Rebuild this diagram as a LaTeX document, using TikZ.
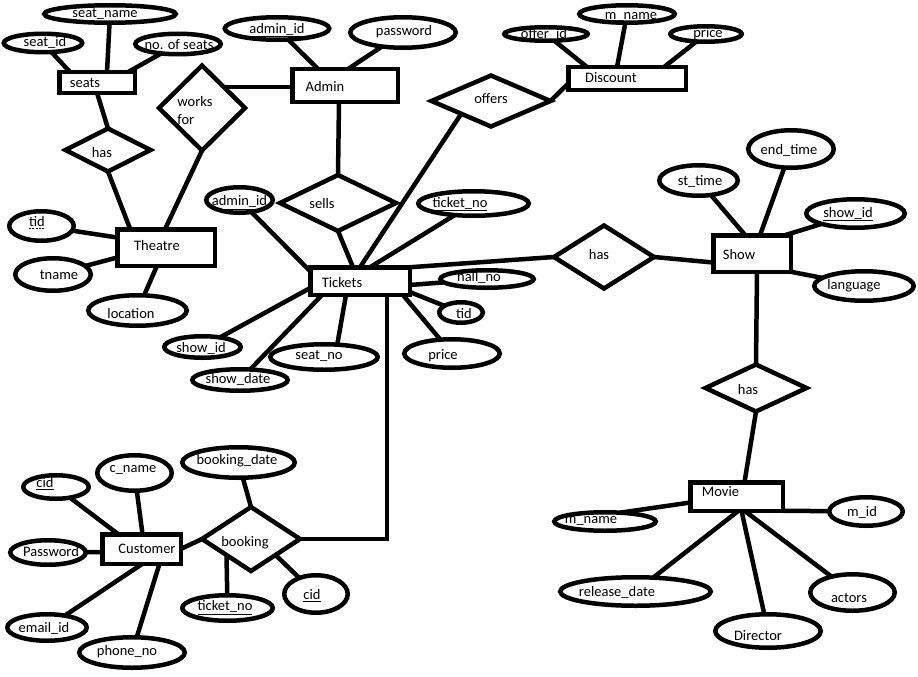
\documentclass[tikz,border=0pt]{standalone}
\usepackage{fontspec}
\setmainfont{Carlito}
\usetikzlibrary{shapes.geometric}
\newcommand\dashul[1]{\setbox0\hbox{#1}\leavevmode\rlap{\raisebox{-2.5pt}{\hbox to \wd0{\xleaders\hbox to 3pt{\rule{2pt}{0.7pt}\hss}\hfill}}}\box0}
\begin{document}
\begin{tikzpicture}[x=1pt,y=-1pt,line width=4.5pt,
  ent/.style={draw,rectangle,inner sep=0pt,outer sep=0pt},
  rel/.style={draw,diamond,inner sep=0pt,outer sep=0pt},
  attr/.style={draw,ellipse,inner sep=0pt,outer sep=0pt},
  lbl/.style={font=\fontsize{14.5}{18}\selectfont,inner sep=0pt,text=black,yshift=-0.75pt}]
\useasboundingbox[fill=white] (0,0) rectangle (918,677);

% ---------- entities ----------
\node[ent,minimum width=75.5pt,minimum height=20.5pt,label={[lbl,xshift=-12pt]center:seats}] (seats) at (97,82.5) {};
\node[ent,minimum width=105.5pt,minimum height=32.5pt,label={[lbl,xshift=-20pt]center:Admin}] (admin) at (345,85.5) {};
\node[ent,minimum width=117.5pt,minimum height=22.5pt,label={[lbl,xshift=-16pt,yshift=1.5pt]center:Discount}] (discount) at (627,78.5) {};
\node[ent,minimum width=97.5pt,minimum height=36.5pt,label={[lbl,xshift=-9pt,yshift=2.5pt]center:Theatre}] (theatre) at (166,247.5) {};
\node[ent,minimum width=99.5pt,minimum height=27.5pt,label={[lbl,xshift=-18pt,yshift=-1pt]center:Tickets}] (tickets) at (360,281) {};
\node[ent,minimum width=77.5pt,minimum height=36.5pt,label={[lbl,xshift=-13pt]center:Show}] (show) at (752,253.5) {};
\node[ent,minimum width=78.5pt,minimum height=29.5pt,label={[lbl,xshift=5.5pt,yshift=1pt]center:Customer}] (customer) at (141.5,549) {};
\node[ent,minimum width=92.5pt,minimum height=28.5pt,label={[lbl,xshift=-16pt,yshift=5.5pt]center:Movie}] (movie) at (736.5,496.5) {};

% ---------- relationships ----------
\node[rel,minimum width=85pt,minimum height=43pt,label={[lbl,xshift=-6pt,yshift=-2pt]center:has}] (has1) at (108,150) {};
\node[rel,minimum width=86pt,minimum height=85pt,label={[lbl,align=left,xshift=-7pt,yshift=-2pt]center:{works\\for}}] (works) at (202,108) {};
\node[rel,minimum width=116pt,minimum height=56pt,label={[lbl,xshift=-16pt]center:sells}] (sells) at (338,203) {};
\node[rel,minimum width=119pt,minimum height=51pt,label={[lbl,yshift=3pt]center:offers}] (offers) at (491,101) {};
\node[rel,minimum width=100pt,minimum height=63pt,label={[lbl,xshift=-5pt,yshift=3pt]center:has}] (has2) at (604,257) {};
\node[rel,minimum width=101pt,minimum height=47pt,label={[lbl,xshift=-8pt,yshift=-1pt]center:has}] (has3) at (756,388) {};
\node[rel,minimum width=98pt,minimum height=64pt,label={[lbl,xshift=-6pt,yshift=-3pt]center:booking}] (booking) at (251,539) {};

% ---------- attributes ----------
\node[attr,minimum width=131.5pt,minimum height=17.5pt,label={[lbl,xshift=-5pt,yshift=1pt]center:seat\_name}] (sname) at (110,14) {};
\node[attr,minimum width=78.5pt,minimum height=18.5pt,label={[lbl,xshift=2pt]center:\underline{seat\_id}}] (seatid) at (43,43) {};
\node[attr,minimum width=85.5pt,minimum height=20.5pt,label={[lbl,xshift=1pt]center:no. of seats}] (nseats) at (178,44) {};
\node[attr,minimum width=104.5pt,minimum height=22.5pt,label={[lbl,yshift=-1pt]center:\underline{admin\_id}}] (adminidA) at (277,28.5) {};
\node[attr,minimum width=105.5pt,minimum height=30.5pt,label={[lbl,xshift=1pt,yshift=1.5pt]center:password}] (passA) at (403,32.5) {};
\node[attr,minimum width=83.5pt,minimum height=13.5pt,label={[lbl,xshift=-2pt]center:offer\_id}] (offerid) at (546,34) {};
\node[attr,minimum width=95.5pt,minimum height=17.5pt,label={[lbl,xshift=4pt,yshift=-2pt]center:m\_name}] (mnameD) at (627,14) {};
\node[attr,minimum width=71.5pt,minimum height=15.5pt,label={[lbl,xshift=2pt,yshift=1pt]center:price}] (priceD) at (706,34) {};
\node[attr,minimum width=78.5pt,minimum height=30.5pt,label={[lbl,xshift=1.5pt]center:st\_time}] (sttime) at (698.5,180.5) {};
\node[attr,minimum width=85.5pt,minimum height=37.5pt,label={[lbl,xshift=-2pt,yshift=-1pt]center:end\_time}] (endtime) at (791,149) {};
\node[attr,minimum width=98.5pt,minimum height=28.5pt,label={[lbl,xshift=-7.5pt]center:\underline{show\_id}}] (showidS) at (855.5,213.5) {};
\node[attr,minimum width=99.5pt,minimum height=29.5pt,label={[lbl,xshift=-10pt,yshift=1pt]center:language}] (language) at (864,286) {};
\node[attr,minimum width=64.5pt,minimum height=29.5pt,label={[lbl,xshift=-4.5pt,yshift=4pt]center:\dashul{tid}}] (tidT) at (41.5,226) {};
\node[attr,minimum width=75.5pt,minimum height=32.5pt,label={[lbl,xshift=6pt]center:tname}] (tname) at (53,274.5) {};
\node[attr,minimum width=98.5pt,minimum height=30.5pt,label={[lbl,xshift=-6.5pt,yshift=-2.5pt]center:location}] (location) at (137.5,310.5) {};
\node[attr,minimum width=66.5pt,minimum height=25.5pt,label={[lbl,yshift=-2pt]center:\underline{admin\_id}}] (adminidT) at (239.5,200) {};
\node[attr,minimum width=110.5pt,minimum height=24.5pt,label={[lbl,xshift=-13.5pt]center:\underline{ticket\_no}}] (ticketnoT) at (473.5,203.5) {};
\node[attr,minimum width=93.5pt,minimum height=17.5pt,label={[lbl,xshift=-8pt,yshift=2pt]center:hall\_no}] (hallno) at (487,279) {};
\node[attr,minimum width=43.5pt,minimum height=20.5pt,label={[lbl,xshift=3pt]center:tid}] (tidTk) at (461,312.5) {};
\node[attr,minimum width=95.5pt,minimum height=28.5pt,label={[lbl,xshift=-9pt,yshift=-1.5pt]center:price}] (priceTk) at (452,353.5) {};
\node[attr,minimum width=107.5pt,minimum height=25.5pt,label={[lbl,xshift=-5pt,yshift=2pt]center:seat\_no}] (seatno) at (324,357) {};
\node[attr,minimum width=76.5pt,minimum height=21.5pt,label={[lbl,xshift=-1.5pt,yshift=-1pt]center:show\_id}] (showidTk) at (202.5,347) {};
\node[attr,minimum width=95.5pt,minimum height=21.5pt,label={[lbl,xshift=-2pt,yshift=1pt]center:show\_date}] (showdate) at (240,380) {};
\node[attr,minimum width=65.5pt,minimum height=23.5pt,label={[lbl,xshift=-11pt,yshift=4pt]center:\underline{cid}}] (cidC) at (56,487) {};
\node[attr,minimum width=74.5pt,minimum height=35.5pt,label={[lbl,xshift=-1.5pt,yshift=4pt]center:c\_name}] (cname) at (134.5,473) {};
\node[attr,minimum width=112.5pt,minimum height=30.5pt,label={[lbl,xshift=-1.5pt,yshift=2.5pt]center:booking\_date}] (bdate) at (238.5,462.5) {};
\node[attr,minimum width=75.5pt,minimum height=24.5pt,label={[lbl,xshift=3pt,yshift=1.5pt]center:Password}] (passC) at (48,552.5) {};
\node[attr,minimum width=79.5pt,minimum height=26.5pt,label={[lbl,xshift=-3pt]center:email\_id}] (emailid) at (47,627.5) {};
\node[attr,minimum width=105.5pt,minimum height=30.5pt,label={[lbl,xshift=-5pt,yshift=1.5pt]center:phone\_no}] (phoneno) at (132,652.5) {};
\node[attr,minimum width=90.5pt,minimum height=25.5pt,label={[lbl,xshift=-2.5pt,yshift=1pt]center:\underline{ticket\_no}}] (ticketnoB) at (227.5,608) {};
\node[attr,minimum width=63.5pt,minimum height=37.5pt,label={[lbl,xshift=-4pt,yshift=-1pt]center:\underline{cid}}] (cidB) at (316,594) {};
\node[attr,minimum width=101.5pt,minimum height=18.5pt,label={[lbl,xshift=-14pt,yshift=1pt]center:m\_name}] (mnameM) at (605,521.5) {};
\node[attr,minimum width=73.5pt,minimum height=28.5pt,label={[lbl,xshift=-4pt]center:m\_id}] (mid) at (866,511.5) {};
\node[attr,minimum width=150.5pt,minimum height=28.5pt,label={[lbl,xshift=-18.5pt]center:release\_date}] (rdate) at (635.5,591.5) {};
\node[attr,minimum width=84.5pt,minimum height=36.5pt,label={[lbl,xshift=-3.5pt,yshift=-4.5pt]center:actors}] (actors) at (852.5,592.5) {};
\node[attr,minimum width=105.5pt,minimum height=33.5pt,label={[lbl,xshift=-10pt,yshift=-4pt]center:Director}] (director) at (768,631) {};

% ---------- connectors ----------
\draw (sname) -- ([xshift=10pt]seats.north);
\draw (seatid) -- ([xshift=11pt]seats.north west);
\draw (nseats) -- ([xshift=-7pt]seats.north east);
\draw (seats.south) -- (has1.north);
\draw (has1.south) -- ([xshift=13pt]theatre.north west);
\draw (works.north east) -- (works.north east -| admin.west);
\draw (works.south) -- ([xshift=-1pt]theatre.north);
\draw (adminidA) -- ([xshift=26pt]admin.north west);
\draw (passA) -- ([xshift=-50pt]admin.north east);
\draw ([xshift=-6pt]admin.south) -- (sells.north);
\draw (sells.south) -- ([xshift=-7pt]tickets.north);
\draw (adminidT) -- ([yshift=-4pt]tickets.north west);
\draw (offers.south west) -- (tickets.north);
\draw (offers.east) -- ([yshift=-5pt]discount.west);
\draw (offerid) -- ([xshift=19pt]discount.north west);
\draw (mnameD) -- ([xshift=-10pt]discount.north);
\draw (priceD) -- ([xshift=-22pt]discount.north east);
\draw (ticketnoT) -- ([xshift=10pt]tickets.north);
\draw (tickets.north east) -- (has2.west);
\draw (has2.east) -- ([yshift=-9pt]show.west);
\draw (hallno) -- ([yshift=-4pt]tickets.east);
\draw (tidTk) -- ([yshift=-11pt]tickets.east);
\draw (priceTk) -- ([xshift=-7pt]tickets.south east);
\draw (seatno.43) -- ([xshift=-14pt]tickets.south);
\draw (showidTk) -- ([yshift=-7pt]tickets.west);
\draw (showdate) -- ([xshift=12pt]tickets.south west);
\draw ([xshift=27pt]tickets.south) |- (booking.east);
\draw (sttime) -- ([xshift=32pt]show.north west);
\draw (endtime) -- ([xshift=8pt]show.north);
\draw (showidS) -- ([xshift=-6pt]show.north east);
\draw (language) -- (show.south east);
\draw ([xshift=5pt]show.south) -- (has3.north);
\draw (has3.south) -- ([xshift=8pt]movie.north);
\draw (mnameM.30) -- ([yshift=-6pt]movie.west);
\draw (mid) -- (movie.south east);
\draw (rdate) -- ([xshift=2pt]movie.south);
\draw (director) -- ([xshift=5pt]movie.south);
\draw (actors) -- ([xshift=8pt]movie.south);
\draw (tidT) -- ([yshift=10pt]theatre.west);
\draw (tname) -- ([yshift=-10pt]theatre.west);
\draw (location) -- ([xshift=-9pt]theatre.south);
\draw (cidC) -- ([xshift=16pt]customer.north west);
\draw (cname) -- ([xshift=1pt]customer.north);
\draw (passC) -- ([yshift=-3pt]customer.west);
\draw (emailid) -- ([xshift=1pt]customer.south);
\draw (phoneno) -- ([xshift=18pt]customer.south);
\draw (customer.east) -- (booking.west);
\draw (booking.north) -- (bdate);
\draw (booking.south west) -- (ticketnoB);
\draw (booking.south east) -- (cidB);
\end{tikzpicture}
\end{document}
